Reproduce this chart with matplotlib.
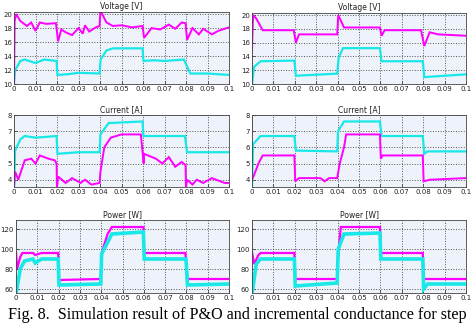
import matplotlib.pyplot as plt

# === data (time in s) ===
x_ticks = [0, 0.01, 0.02, 0.03, 0.04, 0.05, 0.06, 0.07, 0.08, 0.09, 0.1]
x_labels = ["0", "0.01", "0.02", "0.03", "0.04", "0.05", "0.06", "0.07", "0.08", "0.09", "0.1"]

# left column - voltage
lv_mag_t = [0, 0.0003, 0.001, 0.003, 0.006, 0.008, 0.01, 0.012, 0.015, 0.0195, 0.0205, 0.022, 0.024,
            0.027, 0.03, 0.032, 0.033, 0.035, 0.038, 0.0398, 0.0402, 0.043, 0.046, 0.05, 0.055, 0.0598,
            0.0605, 0.064, 0.068, 0.072, 0.075, 0.078, 0.0798, 0.0805, 0.083, 0.086, 0.088, 0.092, 0.095, 0.1]
lv_mag = [10, 19, 20, 19, 18.3, 18.8, 17.6, 18.8, 18.6, 18.7, 16.1, 17.8, 17.4,
          17.0, 18.0, 17.2, 18.4, 17.5, 18.1, 18.3, 20.5, 18.8, 18.3, 18.4, 18.1, 18.3,
          16.6, 18.0, 17.8, 18.5, 17.9, 18.8, 18.7, 16.3, 18.0, 17.1, 17.9, 17.1, 17.6, 18.1]
lv_cyan_t = [0, 0.0005, 0.003, 0.005, 0.01, 0.014, 0.0198, 0.0202, 0.025, 0.03, 0.0398, 0.0403,
             0.043, 0.046, 0.0598, 0.0602, 0.065, 0.07, 0.079, 0.0805, 0.082, 0.09, 0.1]
lv_cyan = [10, 12, 13.3, 13.5, 13.0, 13.5, 13.3, 11.3, 11.4, 11.6, 11.5, 13.5,
           14.8, 15.1, 15.1, 13.3, 13.4, 13.3, 13.5, 12.5, 11.5, 11.5, 11.3]

# right column - voltage
rv_mag_t = [0, 0.0005, 0.002, 0.005, 0.01, 0.0195, 0.0205, 0.022, 0.03, 0.0398, 0.0403, 0.043,
            0.05, 0.0598, 0.0605, 0.062, 0.07, 0.079, 0.0805, 0.083, 0.087, 0.1]
rv_mag = [15, 20, 19.5, 17.8, 17.8, 17.8, 16.0, 17.2, 17.2, 17.2, 20, 18.2,
          18.2, 18.2, 17.0, 17.8, 17.8, 17.8, 15.5, 17.5, 17.2, 17.0]
rv_cyan_t = [0, 0.001, 0.004, 0.0198, 0.0205, 0.0398, 0.0405, 0.0425, 0.0598, 0.0605, 0.0798,
             0.0805, 0.1]
rv_cyan = [10, 12.5, 13.3, 13.4, 11.2, 11.5, 13.8, 15.2, 15.2, 13.3, 13.3, 11.0, 11.4]

# left column - current
lc_cyan_t = [0, 0.0005, 0.003, 0.005, 0.01, 0.0198, 0.0202, 0.03, 0.0398, 0.0402, 0.044, 0.0598,
             0.0602, 0.07, 0.0795, 0.0805, 0.09, 0.1]
lc_cyan = [3.5, 5.8, 6.5, 6.7, 6.6, 6.7, 5.6, 5.7, 5.7, 6.8, 7.5, 7.6,
           6.7, 6.7, 6.7, 5.7, 5.7, 5.7]
lc_mag_t = [0, 0.0005, 0.002, 0.005, 0.008, 0.01, 0.012, 0.016, 0.019, 0.0198, 0.02, 0.0205, 0.024,
            0.027, 0.031, 0.033, 0.036, 0.0398, 0.0402, 0.042, 0.045, 0.05, 0.059, 0.0603, 0.0605,
            0.066, 0.069, 0.072, 0.075, 0.078, 0.0798, 0.08, 0.0805, 0.083, 0.085, 0.088, 0.092,
            0.098, 0.1]
lc_mag = [3.5, 4.5, 4.0, 5.2, 5.3, 5.0, 5.5, 5.3, 5.2, 5.0, 3.5, 4.2, 3.8,
          4.1, 3.8, 4.0, 3.7, 3.8, 4.5, 6.0, 6.6, 6.8, 6.8, 5.0, 5.6,
          5.3, 5.0, 5.4, 4.8, 5.1, 4.9, 3.5, 4.0, 3.7, 4.0, 3.8, 4.1,
          3.8, 3.8]

# right column - current
rc_cyan_t = [0, 0.0005, 0.004, 0.0198, 0.0205, 0.0398, 0.0402, 0.043, 0.0598, 0.0605, 0.0798,
             0.0805, 0.082, 0.1]
rc_cyan = [3.5, 6.2, 6.7, 6.7, 5.8, 5.75, 7.0, 7.6, 7.6, 6.7, 6.7, 5.6, 5.75, 5.75]
rc_mag_t = [0, 0.001, 0.003, 0.005, 0.0198, 0.0202, 0.022, 0.032, 0.034, 0.036, 0.0398, 0.041,
            0.043, 0.044, 0.0598, 0.0602, 0.061, 0.0798, 0.0802, 0.083, 0.1]
rc_mag = [4.0, 4.3, 5.0, 5.5, 5.5, 3.9, 4.1, 4.1, 3.9, 4.1, 4.1, 5.0,
          6.0, 6.8, 6.8, 5.3, 5.5, 5.5, 3.9, 4.0, 4.1]

# left column - power
lp_mag_t = [0, 0.0005, 0.002, 0.003, 0.008, 0.009, 0.012, 0.0198, 0.0202, 0.0398, 0.0402, 0.043,
            0.045, 0.0598, 0.0602, 0.0795, 0.0805, 0.1]
lp_mag = [97, 80, 92, 96, 96, 94, 96, 96, 69, 70, 96, 115, 122, 122, 96, 96, 70, 70]
lp_cyan_t = [0, 0.002, 0.004, 0.008, 0.009, 0.012, 0.0198, 0.0202, 0.0398, 0.0402, 0.045, 0.0598,
             0.0602, 0.0798, 0.0805, 0.1]
lp_cyan = [55, 80, 88, 90, 86, 90, 90, 64, 65, 95, 115, 117, 90, 90, 64, 65]

# right column - power
rp_mag_t = [0, 0.001, 0.003, 0.004, 0.0198, 0.0202, 0.0398, 0.0402, 0.0415, 0.0598, 0.0602,
            0.0798, 0.0802, 0.1]
rp_mag = [97, 85, 94, 96, 96, 70, 70, 92, 122, 122, 96, 96, 70, 70]
rp_cyan_t = [0, 0.002, 0.004, 0.0198, 0.0202, 0.0398, 0.0403, 0.043, 0.0598, 0.0602, 0.0798,
             0.0802, 0.082, 0.1]
rp_cyan = [55, 85, 90, 90, 63, 66, 100, 115, 116, 90, 90, 60, 65, 65]

# === figure ===
MAG = "#ff00ff"
CYAN = "#18e8e8"
BG = "#eef2fb"

fig = plt.figure(figsize=(4.74, 3.25), dpi=100)

W, H = 474, 325
def px_axes(left, top, right, bottom):
    return fig.add_axes([left / W, 1 - bottom / H, (right - left) / W, (bottom - top) / H])

panels = [
    (px_axes(14, 12, 229, 84), "Voltage [V]", (10, 20.3), [10, 12, 14, 16, 18, 20],
     [(lv_cyan_t, lv_cyan, CYAN, 1.6), (lv_mag_t, lv_mag, MAG, 1.4)]),
    (px_axes(252, 13, 466, 84), "Voltage [V]", (10, 20.3), [10, 12, 14, 16, 18, 20],
     [(rv_cyan_t, rv_cyan, CYAN, 1.6), (rv_mag_t, rv_mag, MAG, 1.4)]),
    (px_axes(14, 115, 229, 187), "Current [A]", (3.55, 8), [4, 5, 6, 7, 8],
     [(lc_cyan_t, lc_cyan, CYAN, 1.6), (lc_mag_t, lc_mag, MAG, 1.4)]),
    (px_axes(252, 115, 466, 187), "Current [A]", (3.55, 8), [4, 5, 6, 7, 8],
     [(rc_cyan_t, rc_cyan, CYAN, 1.6), (rc_mag_t, rc_mag, MAG, 1.4)]),
    (px_axes(16, 220, 229, 293), "Power [W]", (56, 129), [60, 80, 100, 120],
     [(lp_mag_t, lp_mag, MAG, 1.6), (lp_cyan_t, lp_cyan, CYAN, 2.6)]),
    (px_axes(252, 220, 466, 293), "Power [W]", (56, 129), [60, 80, 100, 120],
     [(rp_mag_t, rp_mag, MAG, 1.6), (rp_cyan_t, rp_cyan, CYAN, 2.6)]),
]

for ax, title, ylim, yticks, lines in panels:
    ax.set_facecolor(BG)
    for t, v, c, lw in lines:
        ax.plot(t, v, color=c, lw=lw, solid_joinstyle="miter")
    ax.set_xlim(0, 0.1)
    ax.set_ylim(*ylim)
    ax.set_xticks(x_ticks)
    ax.set_xticklabels(x_labels)
    ax.set_yticks(yticks)
    ax.grid(True, color="#555555", linestyle=":", linewidth=0.7)
    ax.tick_params(direction="in", length=2, width=0.5, labelsize=5, pad=1.5, colors="#222222")
    for s in ax.spines.values():
        s.set_linewidth(0.6)
        s.set_color("#444444")
    ax.set_title(title, fontsize=5.5, pad=2, color="#222222")

fig.text(0.5, 0.005, "Fig. 8.  Simulation result of P&O and incremental conductance for step",
         ha="center", va="bottom", fontsize=11.6, family="Liberation Serif")

fig.savefig("out.png", dpi=100)
